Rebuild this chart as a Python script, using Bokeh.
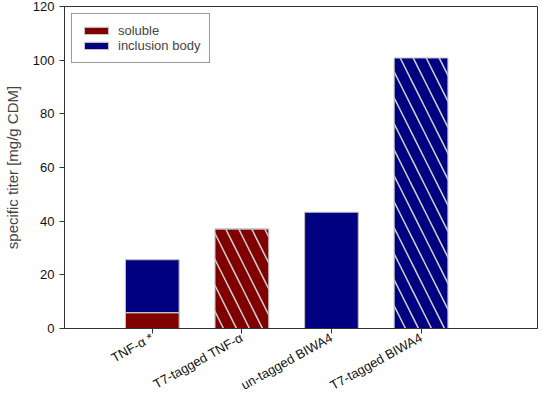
import math
from bokeh.plotting import figure
from bokeh.models import ColumnDataSource, Range1d, FixedTicker
from bokeh.core.properties import field
from bokeh.embed import file_html
from bokeh.resources import INLINE

categories = ["TNF-α *", "T7-tagged TNF-α", "un-tagged BIWA4", "T7-tagged BIWA4"]
soluble = [5.9, 37.1, 0.0, 0.0]
inclusion = [19.7, 0.0, 43.3, 100.8]
hatch = [" ", "\\", " ", "\\"]
y_ticks = [0, 20, 40, 60, 80, 100, 120]

pos = list(range(len(categories)))
src = ColumnDataSource(data=dict(x=pos, soluble=soluble, inclusion=inclusion, hatch=hatch))

p = figure(width=541, height=402, output_backend="svg", toolbar_location=None,
           x_range=Range1d(-0.98, 4.30), y_range=Range1d(0, 120),
           min_border_left=57, min_border_top=6, min_border_right=4, min_border_bottom=10)

p.vbar_stack(["soluble", "inclusion"], x="x", width=0.6, source=src,
             color=["#800000", "#000080"], line_color="#c0c0c0", line_width=1.1,
             hatch_pattern=field("hatch"), hatch_color="#d0d0d0", hatch_scale=26,
             hatch_weight=1.5, legend_label=["soluble", "inclusion body"])

p.xgrid.visible = False
p.ygrid.visible = False
p.outline_line_color = "#333333"
p.outline_line_width = 1

p.xaxis.ticker = FixedTicker(ticks=pos)
p.xaxis.major_label_overrides = {i: c for i, c in zip(pos, categories)}
p.xaxis.major_label_orientation = math.radians(29)
p.yaxis.ticker = FixedTicker(ticks=y_ticks)
p.yaxis.axis_label = "specific titer [mg/g CDM]"

for ax in (p.xaxis, p.yaxis):
    ax.axis_line_color = "#333333"
    ax.major_tick_line_color = "#333333"
    ax.major_tick_in = 0
    ax.major_tick_out = 5
    ax.minor_tick_line_color = None
    ax.major_label_text_font = "Liberation Sans"
    ax.major_label_text_font_size = "13px"
    ax.major_label_text_color = "#111111"
    ax.major_label_standoff = 5
p.xaxis.major_label_standoff = 3
p.yaxis.axis_label_text_font = "Liberation Sans"
p.yaxis.axis_label_text_font_size = "15px"
p.yaxis.axis_label_text_font_style = "normal"
p.yaxis.axis_label_standoff = 9

p.legend.location = "top_left"
p.legend.margin = 7
p.legend.padding = 9
p.legend.spacing = 0
p.legend.glyph_width = 30
p.legend.glyph_height = 9
p.legend.label_height = 15
p.legend.label_standoff = 7
p.legend.label_text_font = "Liberation Sans"
p.legend.label_text_font_size = "13px"
p.legend.border_line_color = "#333333"
p.legend.border_line_width = 1
p.legend.background_fill_alpha = 1

open("out.html", "w").write(file_html(p, INLINE))
